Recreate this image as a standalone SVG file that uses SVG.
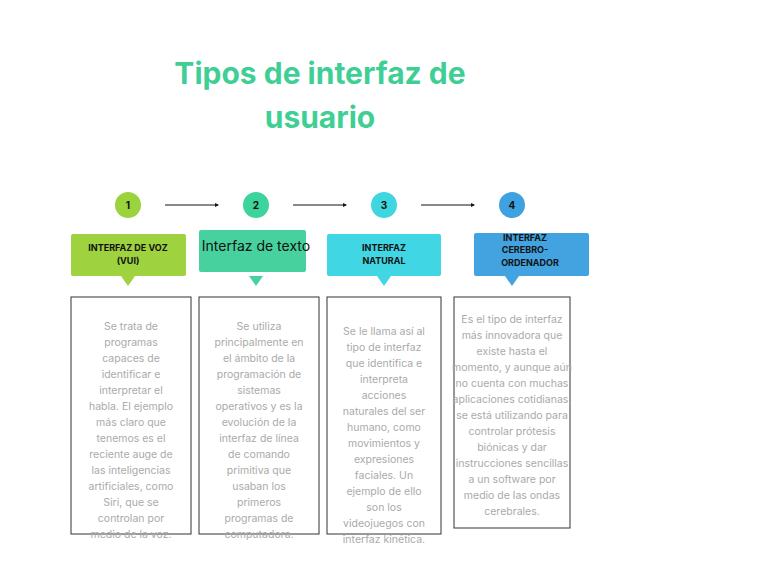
<svg xmlns="http://www.w3.org/2000/svg" width="768" height="576" viewBox="0 0 768 576">
<style>
.t{font-family:"Inter","Liberation Sans",sans-serif}
.title{font-family:"Inter","Liberation Sans",sans-serif;font-size:30px;font-weight:bold;fill:#3fcf95;text-anchor:middle}
.num{font-family:"Inter","Liberation Sans",sans-serif;font-size:10px;font-weight:bold;fill:#111;text-anchor:middle}
.lab{font-family:"Inter","Liberation Sans",sans-serif;font-size:9px;font-weight:bold;fill:#111;text-anchor:middle}
.desc{fill:#fff;stroke:#333;stroke-width:1}
.dt{font-family:"Inter","Liberation Sans",sans-serif;font-size:10.5px;fill:#aaa;text-anchor:middle}
.arr{stroke:#111;stroke-width:1;marker-end:url(#ah)}
</style>
<defs><marker id="ah" markerWidth="4" markerHeight="4" refX="3" refY="2" orient="auto"><path d="M0,0 L4,2 L0,4 z" fill="#111"/></marker></defs>
<rect width="768" height="576" fill="#fff"/>
<text class="title" x="320" y="84">Tipos de interfaz de</text>
<text class="title" x="320" y="128">usuario</text>
<g id="connectors">
<line class="arr" x1="165" y1="205" x2="218" y2="205"/>
<line class="arr" x1="293" y1="205" x2="346" y2="205"/>
<line class="arr" x1="421" y1="205" x2="474" y2="205"/>
</g>
<g id="node1">
<circle cx="128" cy="205" r="13" fill="#9bd33e"/><text class="num" x="128" y="209">1</text>
<rect x="71" y="234" width="115" height="42" rx="2" fill="#9ed23e"/><path d="M121,276 L135,276 L128,286 z" fill="#9ed23e"/>
<text class="lab" x="128" y="251">INTERFAZ DE VOZ</text><text class="lab" x="128" y="264">(VUI)</text>
<rect class="desc" x="71" y="297" width="120" height="237"/>
<text class="dt"><tspan x="131" y="330">Se trata de</tspan><tspan x="131" dy="16">programas</tspan><tspan x="131" dy="16">capaces de</tspan><tspan x="131" dy="16">identificar e</tspan><tspan x="131" dy="16">interpretar el</tspan><tspan x="131" dy="16">habla. El ejemplo</tspan><tspan x="131" dy="16">más claro que</tspan><tspan x="131" dy="16">tenemos es el</tspan><tspan x="131" dy="16">reciente auge de</tspan><tspan x="131" dy="16">las inteligencias</tspan><tspan x="131" dy="16">artificiales, como</tspan><tspan x="131" dy="16">Siri, que se</tspan><tspan x="131" dy="16">controlan por</tspan><tspan x="131" dy="16">medio de la voz.</tspan></text>
</g>
<g id="node2">
<circle cx="256" cy="205" r="13" fill="#3dd39c"/><text class="num" x="256" y="209">2</text>
<rect x="199" y="230" width="107" height="42" rx="2" fill="#46d19e"/><path d="M249,276 L263,276 L256,286 z" fill="#46d19e"/>
<text class="t" x="256" y="251" font-size="14" fill="#111" text-anchor="middle">Interfaz de texto</text>
<rect class="desc" x="199" y="297" width="120" height="237"/>
<text class="dt"><tspan x="259" y="330">Se utiliza</tspan><tspan x="259" dy="16">principalmente en</tspan><tspan x="259" dy="16">el ámbito de la</tspan><tspan x="259" dy="16">programación de</tspan><tspan x="259" dy="16">sistemas</tspan><tspan x="259" dy="16">operativos y es la</tspan><tspan x="259" dy="16">evolución de la</tspan><tspan x="259" dy="16">interfaz de línea</tspan><tspan x="259" dy="16">de comando</tspan><tspan x="259" dy="16">primitiva que</tspan><tspan x="259" dy="16">usaban los</tspan><tspan x="259" dy="16">primeros</tspan><tspan x="259" dy="16">programas de</tspan><tspan x="259" dy="16">computadora.</tspan></text>
</g>
<g id="node3">
<circle cx="384" cy="205" r="13" fill="#3fd6e0"/><text class="num" x="384" y="209">3</text>
<rect x="327" y="234" width="114" height="42" rx="2" fill="#41d6e3"/><path d="M377,276 L391,276 L384,286 z" fill="#41d6e3"/>
<text class="lab" x="384" y="251">INTERFAZ</text><text class="lab" x="384" y="264">NATURAL</text>
<rect class="desc" x="327" y="297" width="114" height="237"/>
<text class="dt"><tspan x="384" y="335">Se le llama así al</tspan><tspan x="384" dy="16">tipo de interfaz</tspan><tspan x="384" dy="16">que identifica e</tspan><tspan x="384" dy="16">interpreta</tspan><tspan x="384" dy="16">acciones</tspan><tspan x="384" dy="16">naturales del ser</tspan><tspan x="384" dy="16">humano, como</tspan><tspan x="384" dy="16">movimientos y</tspan><tspan x="384" dy="16">expresiones</tspan><tspan x="384" dy="16">faciales. Un</tspan><tspan x="384" dy="16">ejemplo de ello</tspan><tspan x="384" dy="16">son los</tspan><tspan x="384" dy="16">videojuegos con</tspan><tspan x="384" dy="16">interfaz kinética.</tspan></text>
</g>
<g id="node4">
<circle cx="512" cy="205" r="13" fill="#3ea2e0"/><text class="num" x="512" y="209">4</text>
<rect x="474" y="233" width="115" height="43" rx="2" fill="#43a3e0"/><path d="M505,276 L519,276 L512,286 z" fill="#43a3e0"/>
<text class="lab" x="525" y="241">INTERFAZ</text><text class="lab" x="525" y="253">CEREBRO-</text><text class="lab" x="530" y="266">ORDENADOR</text>
<rect class="desc" x="454" y="297" width="116" height="231"/>
<text class="dt"><tspan x="512" y="323">Es el tipo de interfaz</tspan><tspan x="512" dy="16">más innovadora que</tspan><tspan x="512" dy="16">existe hasta el</tspan><tspan x="512" dy="16">momento, y aunque aún</tspan><tspan x="512" dy="16">no cuenta con muchas</tspan><tspan x="512" dy="16">aplicaciones cotidianas,</tspan><tspan x="512" dy="16">se está utilizando para</tspan><tspan x="512" dy="16">controlar prótesis</tspan><tspan x="512" dy="16">biónicas y dar</tspan><tspan x="512" dy="16">instrucciones sencillas</tspan><tspan x="512" dy="16">a un software por</tspan><tspan x="512" dy="16">medio de las ondas</tspan><tspan x="512" dy="16">cerebrales.</tspan></text>
</g>
</svg>
